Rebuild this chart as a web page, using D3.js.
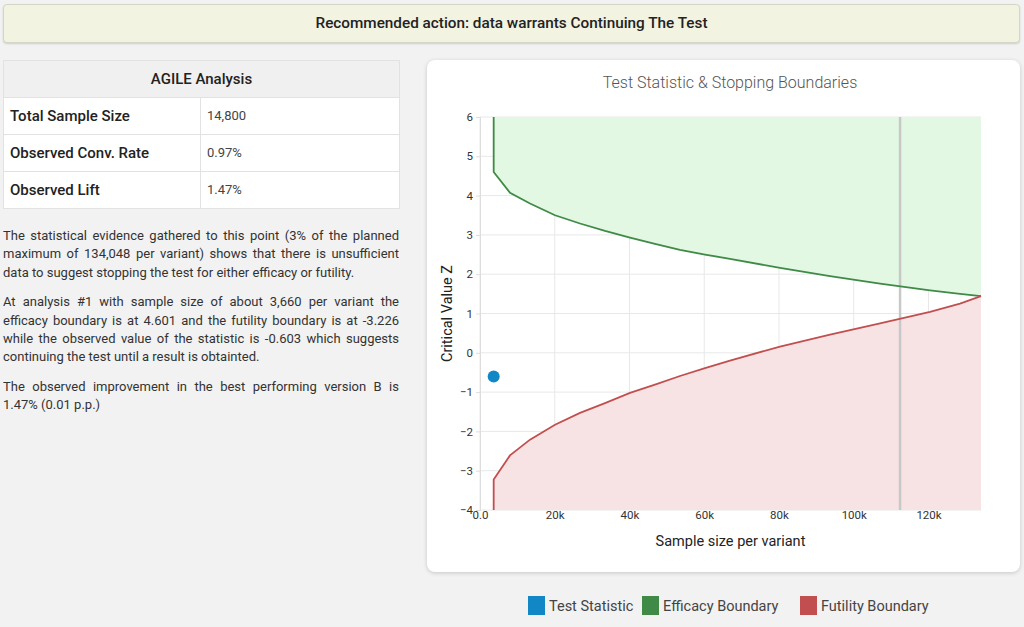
<!DOCTYPE html>
<html>
<head>
<meta charset="utf-8">
<script src="https://cdn.jsdelivr.net/npm/d3@7"></script>
<style>
  body { margin: 0; background: #f2f2f2; font-family: Roboto, "Noto Sans", sans-serif; color: #222; }
  #page { position: relative; width: 1024px; height: 627px; overflow: hidden; }
  .banner { position: absolute; left: 3px; top: 4px; width: 1015px; height: 37px; background: #f3f3e2;
    border: 1px solid #d6d6c8; border-radius: 4px; box-shadow: 0 1px 2px rgba(0,0,0,0.15);
    text-align: center; line-height: 37px; font-size: 15.3px; font-weight: 500; color: #222; }
  table.agile { position: absolute; left: 3px; top: 60px; width: 397px; border-collapse: collapse; background: #fff; }
  table.agile th { background: #f0f0f0; height: 36px; padding: 0; font-size: 15px; font-weight: 500; border: 1px solid #e2e2e2; }
  table.agile td { height: 36px; border: 1px solid #e2e2e2; padding: 0 6px; }
  table.agile td.lbl { width: 184px; font-size: 15px; font-weight: 500; }
  table.agile td.val { font-size: 13px; color: #444; vertical-align: top; padding-top: 10px; height: 26px; }
  .text { position: absolute; left: 3px; top: 227px; width: 396px; font-size: 13px; line-height: 18.4px; text-align: justify; color: #333; }
  .text p { margin: 0 0 11px 0; }
  .card { position: absolute; left: 427px; top: 60px; width: 593px; height: 512px; background: #fff;
    border-radius: 8px; box-shadow: 0 1px 4px rgba(0,0,0,0.18); }
  svg { position: absolute; left: 0; top: 0; }
</style>
</head>
<body>
<div id="page">
  <div class="banner">Recommended action: data warrants Continuing The Test</div>
  <table class="agile"></table>
  <div class="text"></div>
  <div class="card"></div>
</div>
<script>
// summary table
const tableTitle = 'AGILE Analysis';
const tableLabels = ['Total Sample Size', 'Observed Conv. Rate', 'Observed Lift'];
const tableValues = ['14,800', '0.97%', '1.47%'];

const paragraphs = [
  'The statistical evidence gathered to this point (3% of the planned maximum of 134,048 per variant) shows that there is unsufficient data to suggest stopping the test for either efficacy or futility.',
  'At analysis #1 with sample size of about 3,660 per variant the efficacy boundary is at 4.601 and the futility boundary is at -3.226 while the observed value of the statistic is -0.603 which suggests continuing the test until a result is obtainted.',
  'The observed improvement in the best performing version B is 1.47% (0.01 p.p.)'
];

// boundaries (sample size per variant, z)
const sampleSizes = [3660, 8030, 13380, 20070, 26760, 33450, 40130, 46820, 53510, 60200, 66890, 80270, 93650, 107030, 120410, 128430, 134048];
const efficacyZ   = [4.601, 4.07, 3.80, 3.50, 3.29, 3.10, 2.93, 2.77, 2.62, 2.50, 2.39, 2.16, 1.95, 1.76, 1.59, 1.50, 1.44];
const futilityZ   = [-3.226, -2.61, -2.21, -1.83, -1.53, -1.28, -1.02, -0.81, -0.59, -0.39, -0.20, 0.16, 0.46, 0.75, 1.04, 1.25, 1.44];

const testStatN = [3660];
const testStatZ = [-0.603];
const markerN = 112390;

const xTicks = [0, 20000, 40000, 60000, 80000, 100000, 120000];
const xTickLabels = ['0.0', '20k', '40k', '60k', '80k', '100k', '120k'];
const yTicks = [6, 5, 4, 3, 2, 1, 0, -1, -2, -3, -4];

const legendNames = ['Test Statistic', 'Efficacy Boundary', 'Futility Boundary'];
const colors = {test: '#1287c6', eff: '#3f8a46', fut: '#c24f4f', effFill: '#e2f8e2', futFill: '#f8e3e4'};

// left side
let table = d3.select('table.agile');
table.append('tr').append('th').attr('colspan', 2).text(tableTitle);
tableLabels.forEach((l, i) => {
  let tr = table.append('tr');
  tr.append('td').classed('lbl', true).text(l);
  tr.append('td').classed('val', true).text(tableValues[i]);
});
d3.select('.text').selectAll('p').data(paragraphs).enter().append('p').text(d => d);

// chart
const W = 1024, H = 627;
const plot = {left: 480, right: 981, top: 117, bottom: 510};

let svg = d3.select('#page').append('svg').attr('width', W).attr('height', H);

let x = d3.scaleLinear().domain([0, 134048]).range([plot.left, plot.right]);
let y = d3.scaleLinear().domain([-4, 6]).range([plot.bottom, plot.top]);

svg.append('text')
  .attr('x', 730).attr('y', 88)
  .attr('text-anchor', 'middle')
  .style('font-size', '16px').style('fill', '#555').style('font-weight', 300)
  .text('Test Statistic & Stopping Boundaries');

// grid
let grid = svg.append('g');
grid.selectAll('line.gy').data(yTicks).enter().append('line')
  .attr('x1', plot.left).attr('x2', plot.right)
  .attr('y1', d => y(d)).attr('y2', d => y(d))
  .attr('stroke', '#e8e8e8');
grid.selectAll('line.gx').data(xTicks).enter().append('line')
  .attr('x1', d => x(d)).attr('x2', d => x(d))
  .attr('y1', plot.top).attr('y2', plot.bottom)
  .attr('stroke', '#e8e8e8');

let pts = sampleSizes.map((n, i) => ({n, e: efficacyZ[i], f: futilityZ[i]}));

svg.append('path').datum(pts)
  .attr('d', d3.area().x(d => x(d.n)).y0(y(6)).y1(d => y(d.e)))
  .attr('fill', colors.effFill);
svg.append('path').datum(pts)
  .attr('d', d3.area().x(d => x(d.n)).y0(y(-4)).y1(d => y(d.f)))
  .attr('fill', colors.futFill);

// axes
let yAxis = d3.axisLeft(y).tickValues(yTicks).tickSize(4).tickFormat(d3.format('d'));
let gy = svg.append('g').attr('transform', `translate(${plot.left},0)`).call(yAxis);
let xAxis = d3.axisBottom(x).tickValues(xTicks).tickSize(0).tickFormat((d, i) => xTickLabels[i]);
let gx = svg.append('g').attr('transform', `translate(0,${plot.bottom})`).call(xAxis);
[gx, gy].forEach(g => {
  g.select('.domain').attr('stroke', '#ddd');
  g.selectAll('.tick line').attr('stroke', '#ddd');
  g.selectAll('text').style('font-size', '11.5px').style('fill', '#333').style('font-family', 'Roboto, sans-serif');
});
gx.select('.domain').remove();
gx.selectAll('text').attr('dy', '0.5em');

svg.append('text')
  .attr('transform', `translate(452,${(plot.top + plot.bottom) / 2}) rotate(-90)`)
  .attr('text-anchor', 'middle')
  .style('font-size', '14.5px').style('fill', '#222')
  .text('Critical Value Z');
svg.append('text')
  .attr('x', (plot.left + plot.right) / 2).attr('y', 546)
  .attr('text-anchor', 'middle')
  .style('font-size', '14.5px').style('fill', '#222')
  .text('Sample size per variant');

// marker line
svg.append('line')
  .attr('x1', x(markerN)).attr('x2', x(markerN))
  .attr('y1', plot.top).attr('y2', plot.bottom)
  .attr('stroke', '#c8c8c8').attr('stroke-width', 2.5);

// boundary lines, starting from the plot edge
let effLine = [{n: pts[0].n, z: y.domain()[1]}].concat(pts.map(d => ({n: d.n, z: d.e})));
let futLine = [{n: pts[0].n, z: y.domain()[0]}].concat(pts.map(d => ({n: d.n, z: d.f})));
let line = d3.line().x(d => x(d.n)).y(d => y(d.z));
svg.append('path').datum(effLine).attr('d', line)
  .attr('fill', 'none').attr('stroke', colors.eff).attr('stroke-width', 1.8);
svg.append('path').datum(futLine).attr('d', line)
  .attr('fill', 'none').attr('stroke', colors.fut).attr('stroke-width', 1.8);

svg.selectAll('circle.ts').data(testStatN).enter().append('circle')
  .attr('cx', d => x(d)).attr('cy', (d, i) => y(testStatZ[i]))
  .attr('r', 6).attr('fill', colors.test);

// legend
const legendX = [528, 642, 800];
const legendColors = [colors.test, colors.eff, colors.fut];
let lg = svg.selectAll('g.lg').data(legendNames).enter().append('g')
  .attr('transform', (d, i) => `translate(${legendX[i]},596)`);
lg.append('rect').attr('width', 17).attr('height', 19).attr('fill', (d, i) => legendColors[i]);
lg.append('text').attr('x', 21).attr('y', 15)
  .style('font-size', '14.5px').style('fill', '#444')
  .text(d => d);
</script>
</body>
</html>
